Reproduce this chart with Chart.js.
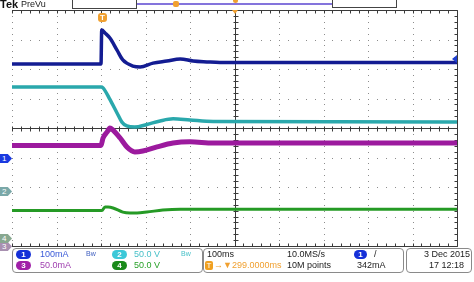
<!DOCTYPE html>
<html lang="en">
<head>
  <meta charset="UTF-8" />
  <title>Scope capture</title>
  <script src="https://cdn.jsdelivr.net/npm/chart.js"></script>
  <style>
    body { margin: 0; background: #fff; font-family: "Liberation Sans", Arial, sans-serif; }
    #wrap { position: relative; width: 474px; height: 282px; overflow: hidden; background: #fff; }
    #scope { position: absolute; left: 0; top: 0; }
    .a { position: absolute; white-space: nowrap; font-size: 9px; line-height: 10px; }
    .box { position: absolute; border: 1px solid #8a8a8a; border-radius: 4px; box-sizing: border-box; }
    .oval { position: absolute; width: 15px; height: 9px; border-radius: 5px; color: #fff;
            font-size: 8px; line-height: 9px; text-align: center; font-weight: bold; }
    .tag { position: absolute; left: 0; width: 12px; height: 9px; color: #fff; font-size: 8px;
           line-height: 9px; padding-left: 2px; box-sizing: border-box;
           clip-path: polygon(0 0, 65% 0, 100% 50%, 65% 100%, 0 100%); }
    .bw { position: absolute; font-size: 7px; line-height: 8px; }
  </style>
</head>
<body>
<div id="wrap">
  <canvas id="scope" width="474" height="282"></canvas>

  <!-- top bar -->
  <div class="a" style="left:0;top:-1px;font-weight:bold;font-size:11px;line-height:11px;color:#111">Tek</div>
  <div class="a" style="left:21px;top:-1px;font-size:9px;color:#222">PreVu</div>
  <div style="position:absolute;left:72px;top:-1px;width:65px;height:10px;border:1px solid #444;box-sizing:border-box"></div>
  <div style="position:absolute;left:332px;top:-1px;width:65px;height:9px;border:1px solid #444;box-sizing:border-box"></div>
  <div style="position:absolute;left:137px;top:3px;width:195px;height:2px;background:#8474dc"></div>
  <div style="position:absolute;left:173px;top:1px;width:6px;height:6px;border-radius:2px;background:#f0a030"></div>
  <div style="position:absolute;left:233px;top:-2px;width:5px;height:5px;border-radius:3px;background:#f0a030"></div>
  <div style="position:absolute;left:232px;top:10px;width:0;height:0;border-left:3px solid transparent;border-right:3px solid transparent;border-top:4px solid #f0a030"></div>

  <!-- trigger marker -->
  <div class="a" style="left:98px;top:13px;width:9px;height:9px;border-radius:3px;background:#f0a030;color:#fff;font-size:8px;line-height:9px;text-align:center;font-weight:bold">T</div>
  <div style="position:absolute;left:452px;top:55px;width:0;height:0;border-top:4px solid transparent;border-bottom:4px solid transparent;border-right:5px solid #2040d0"></div>

  <!-- channel ground tags -->
  <div class="tag" style="top:154px;background:#1a3ae0">1</div>
  <div class="tag" style="top:187px;background:#7aa8a8">2</div>
  <div class="tag" style="top:242px;background:#a890b0">3</div>
  <div class="tag" style="top:234px;background:#88a890">4</div>

  <!-- status bar -->
  <div class="box" style="left:12px;top:248px;width:191px;height:25px"></div>
  <div class="box" style="left:203px;top:248px;width:201px;height:25px"></div>
  <div class="box" style="left:406px;top:248px;width:66px;height:25px"></div>

  <div class="oval" style="left:16px;top:250px;background:#1530d8">1</div>
  <div class="a" style="left:40px;top:249px;color:#3a5ad8">100mA</div>
  <div class="bw" style="left:86px;top:250px;color:#4060c0">Bw</div>
  <div class="oval" style="left:112px;top:250px;background:#3cc8d8">2</div>
  <div class="a" style="left:134px;top:249px;color:#48c0c8">50.0 V</div>
  <div class="bw" style="left:181px;top:250px;color:#48c0c8">Bw</div>
  <div class="oval" style="left:16px;top:261px;background:#a020a8">3</div>
  <div class="a" style="left:40px;top:260px;color:#a040b0">50.0mA</div>
  <div class="oval" style="left:112px;top:261px;background:#1a8a1a">4</div>
  <div class="a" style="left:134px;top:260px;color:#28a028">50.0 V</div>

  <div class="a" style="left:207px;top:249px;color:#222">100ms</div>
  <div class="a" style="left:205px;top:261px;width:8px;height:9px;border-radius:2px;background:#f0a020;color:#fff;font-size:8px;line-height:9px;text-align:center">T</div>
  <div class="a" style="left:214px;top:260px;color:#f0a030">→▼299.0000ms</div>
  <div class="a" style="left:287px;top:249px;color:#222">10.0MS/s</div>
  <div class="a" style="left:287px;top:260px;color:#222">10M points</div>
  <div class="oval" style="left:354px;top:250px;width:13px;background:#1530d8">1</div>
  <div class="a" style="left:374px;top:249px;color:#222">/</div>
  <div class="a" style="left:357px;top:260px;color:#222">342mA</div>

  <div class="a" style="left:406px;top:249px;width:64px;text-align:right;color:#222">3 Dec 2015</div>
  <div class="a" style="left:429px;top:260px;color:#222">17 12:18</div>
</div>

<script>
  // time in ms relative to trigger, level in screen divisions (0 = bottom, 8 = top)
  const ch1Time = [-200, 0, 1.6, 9, 20, 36, 49, 72, 88, 117, 148, 178, 207, 238, 267, 800];
  const ch1Div  = [6.17, 6.17, 7.32, 7.22, 7.05, 6.64, 6.31, 6.10, 6.07, 6.20, 6.27, 6.34, 6.27, 6.24, 6.22, 6.22];

  const ch2Time = [-200, 0, 4.5, 20, 36, 47, 58, 76, 103, 133, 162, 200, 252, 800];
  const ch2Div  = [5.39, 5.39, 5.36, 4.97, 4.51, 4.20, 4.07, 4.03, 4.12, 4.24, 4.31, 4.27, 4.22, 4.20];

  const ch3Time = [-200, 0, 4.5, 13.5, 20, 27, 43, 58, 76, 94, 126, 162, 200, 252, 800];
  const ch3Div  = [3.41, 3.41, 3.66, 3.86, 4.0, 3.93, 3.66, 3.36, 3.19, 3.22, 3.36, 3.49, 3.53, 3.49, 3.49];

  const ch4Time = [-200, 2, 9, 16, 27, 49, 65, 81, 103, 139, 178, 252, 800];
  const ch4Div  = [1.20, 1.20, 1.32, 1.32, 1.29, 1.15, 1.12, 1.12, 1.15, 1.22, 1.25, 1.25, 1.25];

  const xTicks = [-200, -100, 0, 100, 200, 300, 400, 500, 600, 700, 800];
  const yTicks = [0, 1, 2, 3, 4, 5, 6, 7, 8];

  function pts(t, v) {
    return t.map((x, i) => ({ x: x, y: v[i] }));
  }

  // graticule: dotted grid, center cross and frame with minor ticks
  const graticule = {
    id: 'graticule',
    beforeDatasetsDraw(chart) {
      const { ctx, chartArea: a, scales: { x, y } } = chart;
      const r = v => Math.round(v) + 0.5;
      ctx.save();
      ctx.fillStyle = '#8c8c8c';
      xTicks.forEach(t => {
        if (t === 300 || t === 800) return;
        const px = Math.round(x.getPixelForValue(t));
        for (let k = 0; k <= 40; k++) {
          ctx.fillRect(px, Math.round(y.getPixelForValue(k * 0.2)), 1, 1);
        }
      });
      yTicks.forEach(d => {
        if (d === 0 || d === 4 || d === 8) return;
        const py = Math.round(y.getPixelForValue(d));
        for (let k = 0; k <= 50; k++) {
          ctx.fillRect(Math.round(x.getPixelForValue(-200 + k * 20)), py, 1, 1);
        }
      });

      ctx.strokeStyle = '#3a3a3a';
      ctx.lineWidth = 1;
      const cx = r(x.getPixelForValue(300));
      const cy = r(y.getPixelForValue(4));
      const top = r(a.top), bottom = r(a.bottom), right = r(a.right);
      ctx.beginPath();
      ctx.moveTo(a.left, cy); ctx.lineTo(a.right, cy);
      ctx.moveTo(cx, a.top); ctx.lineTo(cx, a.bottom);
      ctx.moveTo(a.left, top); ctx.lineTo(right, top);
      ctx.moveTo(a.left, bottom); ctx.lineTo(right, bottom);
      ctx.moveTo(right, top); ctx.lineTo(right, bottom);
      for (let k = 0; k <= 50; k++) {
        const px = r(x.getPixelForValue(-200 + k * 20));
        ctx.moveTo(px, cy - 2); ctx.lineTo(px, cy + 3);
        ctx.moveTo(px, top); ctx.lineTo(px, top + 3);
        ctx.moveTo(px, bottom); ctx.lineTo(px, bottom - 3);
      }
      for (let k = 0; k <= 40; k++) {
        const py = r(y.getPixelForValue(k * 0.2));
        ctx.moveTo(cx - 2, py); ctx.lineTo(cx + 3, py);
        ctx.moveTo(right, py); ctx.lineTo(right - 3, py);
      }
      ctx.stroke();
      ctx.restore();
    }
  };

  const trace = (label, data, color, width) => ({
    label: label,
    data: data,
    borderColor: color,
    borderWidth: width,
    pointRadius: 0,
    fill: false,
    cubicInterpolationMode: 'monotone'
  });

  new Chart(document.getElementById('scope'), {
    type: 'line',
    data: {
      datasets: [
        trace('CH1', pts(ch1Time, ch1Div), '#131c92', 3.5),
        trace('CH2', pts(ch2Time, ch2Div), '#2aa8ac', 3.5),
        trace('CH3', pts(ch3Time, ch3Div), '#9c1a9e', 5),
        trace('CH4', pts(ch4Time, ch4Div), '#259a25', 3)
      ]
    },
    options: {
      responsive: false,
      animation: false,
      layout: { padding: { left: 12, top: 10, right: 17, bottom: 36 } },
      plugins: { legend: { display: false }, tooltip: { enabled: false } },
      scales: {
        x: { type: 'linear', min: -200, max: 800, display: false },
        y: { type: 'linear', min: 0, max: 8, display: false }
      }
    },
    plugins: [graticule]
  });
</script>
</body>
</html>
